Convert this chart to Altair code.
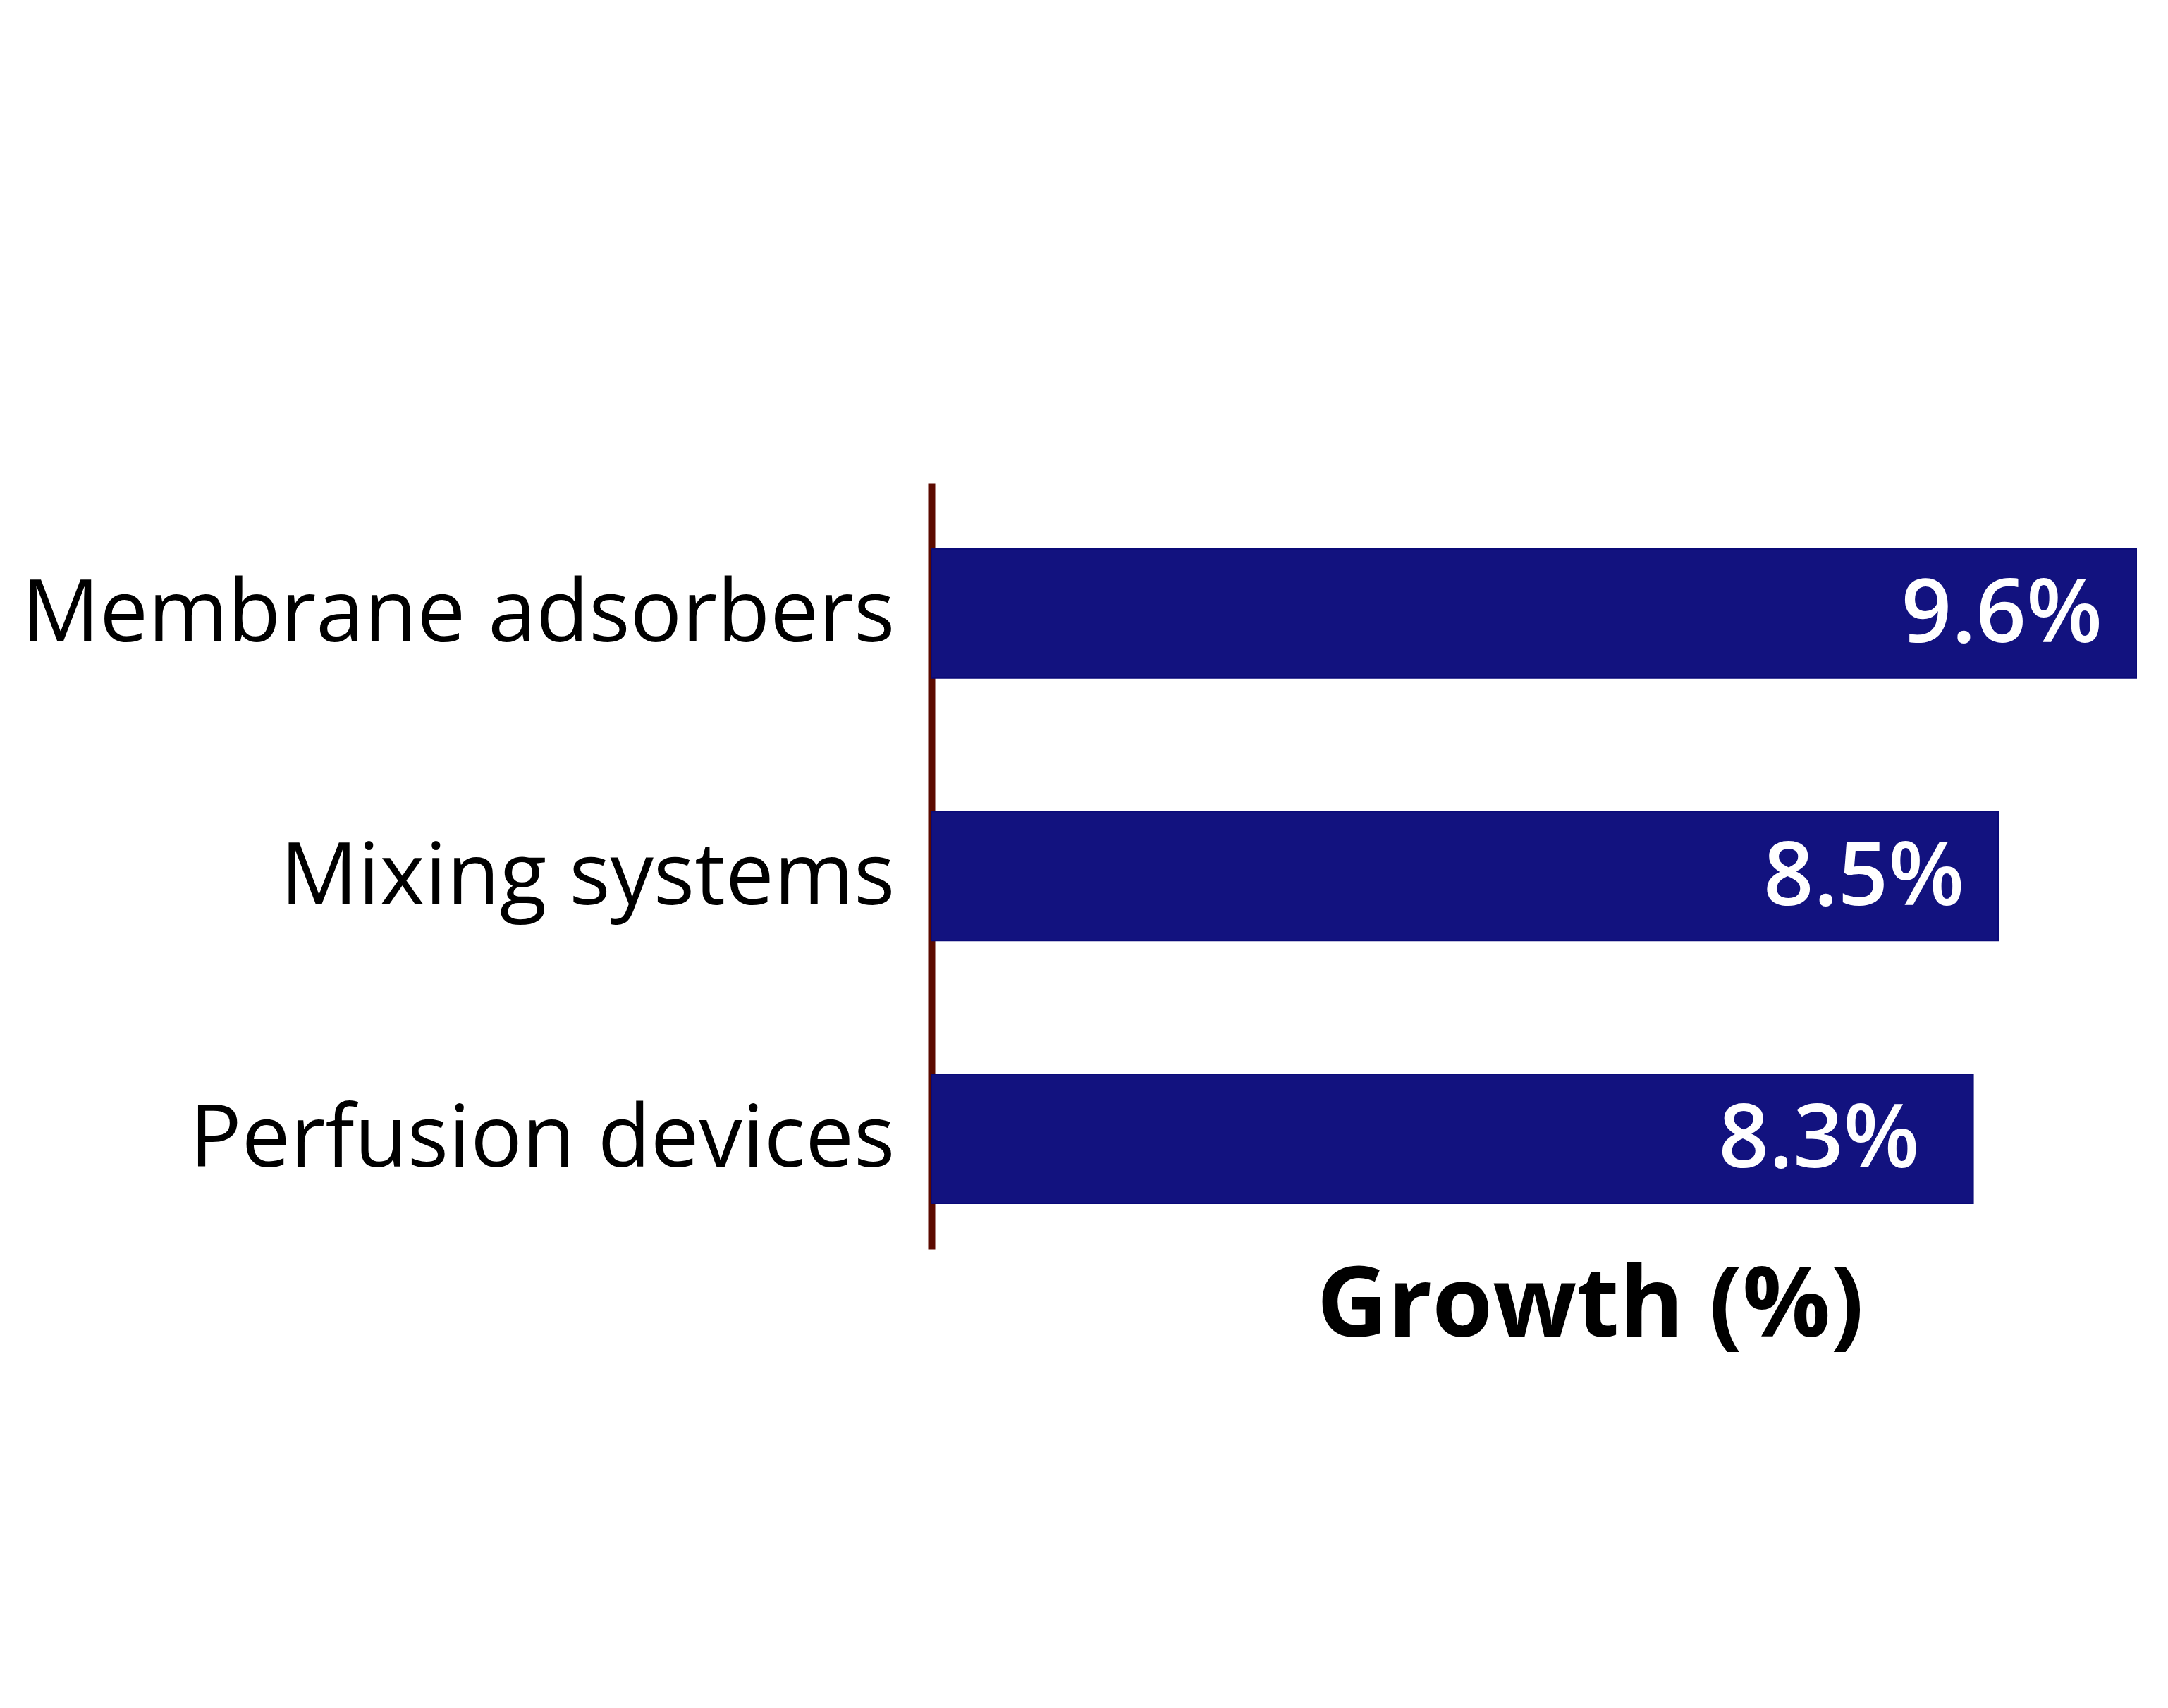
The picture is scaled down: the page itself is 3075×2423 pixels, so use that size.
import altair as alt
import pandas as pd

# Segment growth rates
segments = ["Membrane adsorbers", "Mixing systems", "Perfusion devices"]
growth = [9.6, 8.5, 8.3]
labels = ["9.6%", "8.5%", "8.3%"]

df = pd.DataFrame({"segment": segments, "growth": growth, "label": labels})

FONT = "Open Sans"
BAR_COLOR = "#12127F"

y_enc = alt.Y(
    "segment:N",
    sort=segments,
    scale=alt.Scale(paddingInner=0.509, paddingOuter=0.213, align=0.59),
    axis=alt.Axis(
        title=None,
        ticks=False,
        grid=False,
        domain=True,
        domainColor="#5C0A00",
        domainWidth=10,
        labelFont=FONT,
        labelFontSize=122.5,
        labelColor="#000000",
        labelPadding=52,
        labelBaseline="alphabetic",
        labelOffset=40,
        labelLimit=0,
    ),
)

x_enc = alt.X(
    "growth:Q",
    scale=alt.Scale(domain=[0, 9.6], nice=False, zero=True),
    axis=alt.Axis(
        title="Growth (%)",
        labels=False,
        ticks=False,
        grid=False,
        domain=False,
        titleFont=FONT,
        titleFontSize=139,
        titleFontWeight="bold",
        titleColor="#000000",
        titleX=934,
        titleY=123,
        titleAlign="center",
        titleBaseline="alphabetic",
    ),
)

bars = alt.Chart(df).mark_bar(
    color=BAR_COLOR, stroke="#0A0A78", strokeWidth=2
).encode(x=x_enc, y=y_enc)


def value_labels(dx, keep):
    # white value labels drawn inside the bar ends
    return (
        alt.Chart(df)
        .transform_filter(alt.FieldOneOfPredicate(field="segment", oneOf=keep))
        .mark_text(
            align="right",
            baseline="alphabetic",
            dx=dx,
            dy=41,
            font=FONT,
            fontSize=125,
            fontWeight=600,
            color="#FFFFFF",
        )
        .encode(
            x=alt.X("growth:Q"),
            y=alt.Y("segment:N", sort=segments),
            text="label:N",
        )
    )


text_a = value_labels(-48, segments[:2])
text_b = value_labels(-76, segments[2:])

chart = (
    alt.layer(bars, text_a, text_b)
    .properties(
        width=1709,
        height=1087,
        autosize=alt.AutoSizeParams(type="none"),
        padding={"left": 1321, "top": 685, "right": 45, "bottom": 651},
        background="#FFFFFF",
    )
    .configure_view(stroke=None)
)

chart.save("out.html", embed_options={"renderer": "svg", "actions": False})
